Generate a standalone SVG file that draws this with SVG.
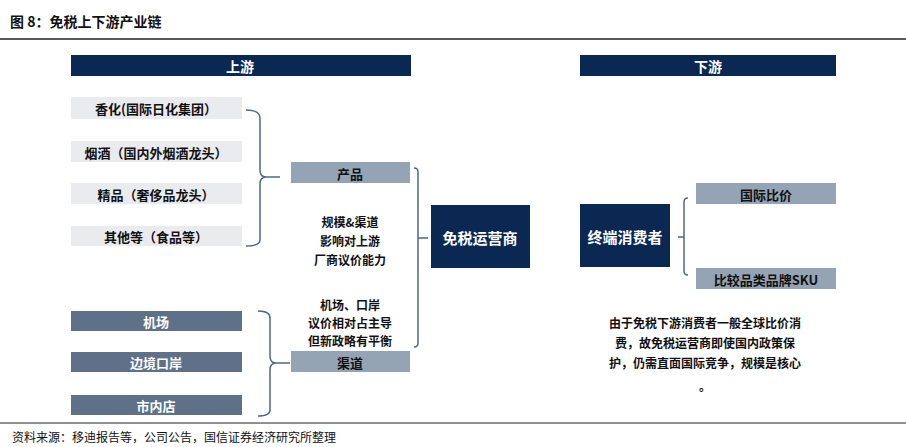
<svg xmlns="http://www.w3.org/2000/svg" width="906" height="447" viewBox="0 0 906 447">
<style>
text{font-family:"Noto Sans CJK SC","Noto Sans CJK JP",sans-serif;font-weight:bold;text-anchor:middle;dominant-baseline:central}
.navy{fill:#0b2852}.lt{fill:#e9ebee}.gb{fill:#95a4b5}.sl{fill:#5e7189}
.w{fill:#fff}.k{fill:#111}
.br{fill:none;stroke:#4f6888;stroke-width:1.5}
</style>
<rect width="906" height="447" fill="#fff"/>
<text x="10" y="21" style="text-anchor:start;font-size:14px" class="k">图 8：免税上下游产业链</text>
<line x1="0" y1="39" x2="906" y2="39" stroke="#222" stroke-width="1.5"/>
<line x1="0" y1="423" x2="906" y2="423" stroke="#222" stroke-width="1"/>
<text x="12" y="436" style="text-anchor:start;font-size:12px;font-weight:normal" class="k">资料来源：移迪报告等，公司公告，国信证券经济研究所整理</text>
<g id="hdr-up"><rect x="71" y="55" width="340" height="21" class="navy"/><text x="240" y="66" font-size="14" class="w">上游</text></g>
<g id="hdr-down"><rect x="580" y="55" width="256" height="21" class="navy"/><text x="708" y="66" font-size="14" class="w">下游</text></g>
<g id="n1"><rect x="71" y="97" width="171" height="22" class="lt"/><text x="156" y="108" font-size="13" class="k">香化(国际日化集团）</text></g>
<g id="n2"><rect x="71" y="141" width="171" height="21" class="lt"/><text x="156" y="152" font-size="13" class="k">烟酒（国内外烟酒龙头）</text></g>
<g id="n3"><rect x="71" y="183" width="171" height="21" class="lt"/><text x="156" y="194" font-size="13" class="k">精品（奢侈品龙头）</text></g>
<g id="n4"><rect x="71" y="226" width="171" height="20" class="lt"/><text x="156" y="236" font-size="13" class="k">其他等（食品等）</text></g>
<g id="n5"><rect x="71" y="311" width="171" height="20" class="sl"/><text x="156" y="321" font-size="13" class="w">机场</text></g>
<g id="n6"><rect x="71" y="352" width="171" height="20" class="sl"/><text x="156" y="362" font-size="13" class="w">边境口岸</text></g>
<g id="n7"><rect x="71" y="395" width="171" height="20" class="sl"/><text x="156" y="405" font-size="13" class="w">市内店</text></g>
<g id="product"><rect x="291" y="162" width="119" height="21" class="gb"/><text x="350" y="173" font-size="13" class="k">产品</text></g>
<g id="channel"><rect x="291" y="351" width="119" height="21" class="gb"/><text x="350" y="362" font-size="13" class="k">渠道</text></g>
<g id="note1" font-size="12" class="k"><text x="350" y="221">规模&amp;渠道</text><text x="350" y="240">影响对上游</text><text x="350" y="259">厂商议价能力</text></g>
<g id="note2" font-size="12" class="k"><text x="350" y="304">机场、口岸</text><text x="350" y="322">议价相对占主导</text><text x="350" y="340">但新政略有平衡</text></g>
<g id="operator"><rect x="431" y="205" width="99" height="63" class="navy"/><text x="480" y="237" font-size="15" class="w">免税运营商</text></g>
<g id="consumer"><rect x="580" y="204" width="90" height="63" class="navy"/><text x="625" y="236" font-size="15" class="w">终端消费者</text></g>
<g id="d1"><rect x="696" y="183" width="140" height="21" class="gb"/><text x="766" y="194" font-size="13" class="k">国际比价</text></g>
<g id="d2"><rect x="696" y="268" width="140" height="21" class="gb"/><text x="766" y="279" font-size="13" class="k">比较品类品牌SKU</text></g>
<g id="note3" font-size="12" class="k" font-weight="normal" style="font-weight:normal"><text x="705" y="322">由于免税下游消费者一般全球比价消</text><text x="705" y="342">费，故免税运营商即使国内政策保</text><text x="705" y="362">护，仍需直面国际竞争，规模是核心</text><text x="705" y="385">。</text></g>
<g id="connectors">
<path class="br" d="M246,110 Q260,110 260,118 V170 Q260,177 266,177 H280 M266,177 Q260,177 260,184 V240 Q260,246 246,246"/>
<path class="br" d="M258,311 Q270,311 270,318 V356 Q270,363 276,363 H290 M276,363 Q270,363 270,370 V410 Q270,416 258,416"/>
<path class="br" d="M414,168 Q418,168 418,172 V343 Q418,347 414,347 M418,238 H428"/>
<path class="br" d="M688,198 Q684,198 684,202 V271 Q684,275 688,275 M684,237 H678"/>
</g>
</svg>
